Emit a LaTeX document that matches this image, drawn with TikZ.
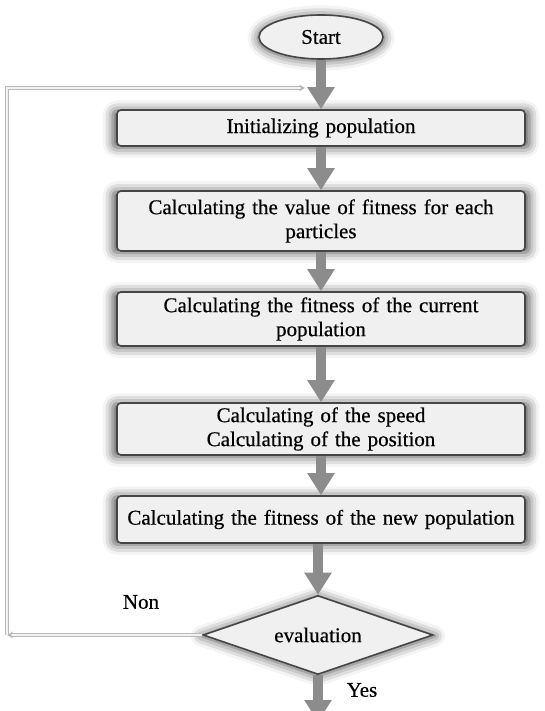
\documentclass[tikz,border=0pt]{standalone}
\usepackage{fontspec}
\setmainfont{Liberation Serif}[UprightFeatures={FakeBold=0.5}]
\usetikzlibrary{shapes.geometric,arrows.meta,shadows.blur}

\begin{document}
\begin{tikzpicture}[x=1pt,y=-1pt,font=\fontsize{21}{24}\selectfont,
            glow/.style={blur shadow={shadow xshift=0pt,shadow yshift=-1pt,shadow scale=1.02,shadow blur radius=10pt,shadow opacity=70}},
            process box/.style={rectangle,rounded corners=4pt,draw=gray!55!black,line width=1.6pt,fill=gray!12,glow,
                minimum width=408pt,text width=396pt,align=center,inner sep=0pt},
            flow arrow/.style={draw=gray!90,fill=gray!90,line width=10pt,-{Triangle[width=26pt,length=22pt]}},
            loop line/.style={draw=gray!55,double=gray!10,double distance=1.6pt,line width=0.8pt,-{Stealth[length=6pt,width=7pt]}}]

        \useasboundingbox (0,0) rectangle (545,711);

        \node[ellipse, draw=gray!55!black, line width=1.6pt, fill=gray!12, glow, minimum width=124pt, minimum height=44pt, inner sep=0pt] (start) at (321,37) {Start};
        \node[process box, minimum height=36pt] (init) at (321,128) {Initializing population};
        \node[process box, minimum height=60pt] (value) at (321,221) {Calculating the value of fitness for each\\particles};
        \node[process box, minimum height=54pt] (current) at (321,319) {Calculating the fitness of the current\\population};
        \node[process box, minimum height=52pt] (speed) at (321,429) {Calculating of the speed\\Calculating of the position};
        \node[process box, minimum height=47pt] (new) at (321,519.5) {Calculating the fitness of the new population};
        \node[diamond, aspect=2.9, draw=gray!55!black, line width=1.6pt, fill=gray!12, glow, minimum width=230pt, minimum height=79pt, inner sep=0pt] (eval) at (318,635) {evaluation};

        \coordinate (down) at (318,722);
        \coordinate (corner low) at (7,635);
        \coordinate (back) at (305,88);

        \node (non) at (141,602) {Non};
        \node (yes) at (362,690) {Yes};

        \foreach \from/\to in {start/init,init/value,value/current,current/speed,speed/new}
            \draw[flow arrow] (\from) -- (\to);
        \draw[flow arrow] (new.south -| eval.north) -- (eval.north);
        \draw[flow arrow] (eval.south) -- (down);

        \draw[loop line] (eval.west) -- (corner low);
        \draw[loop line] (corner low) |- (back);

    \end{tikzpicture}
\end{document}
